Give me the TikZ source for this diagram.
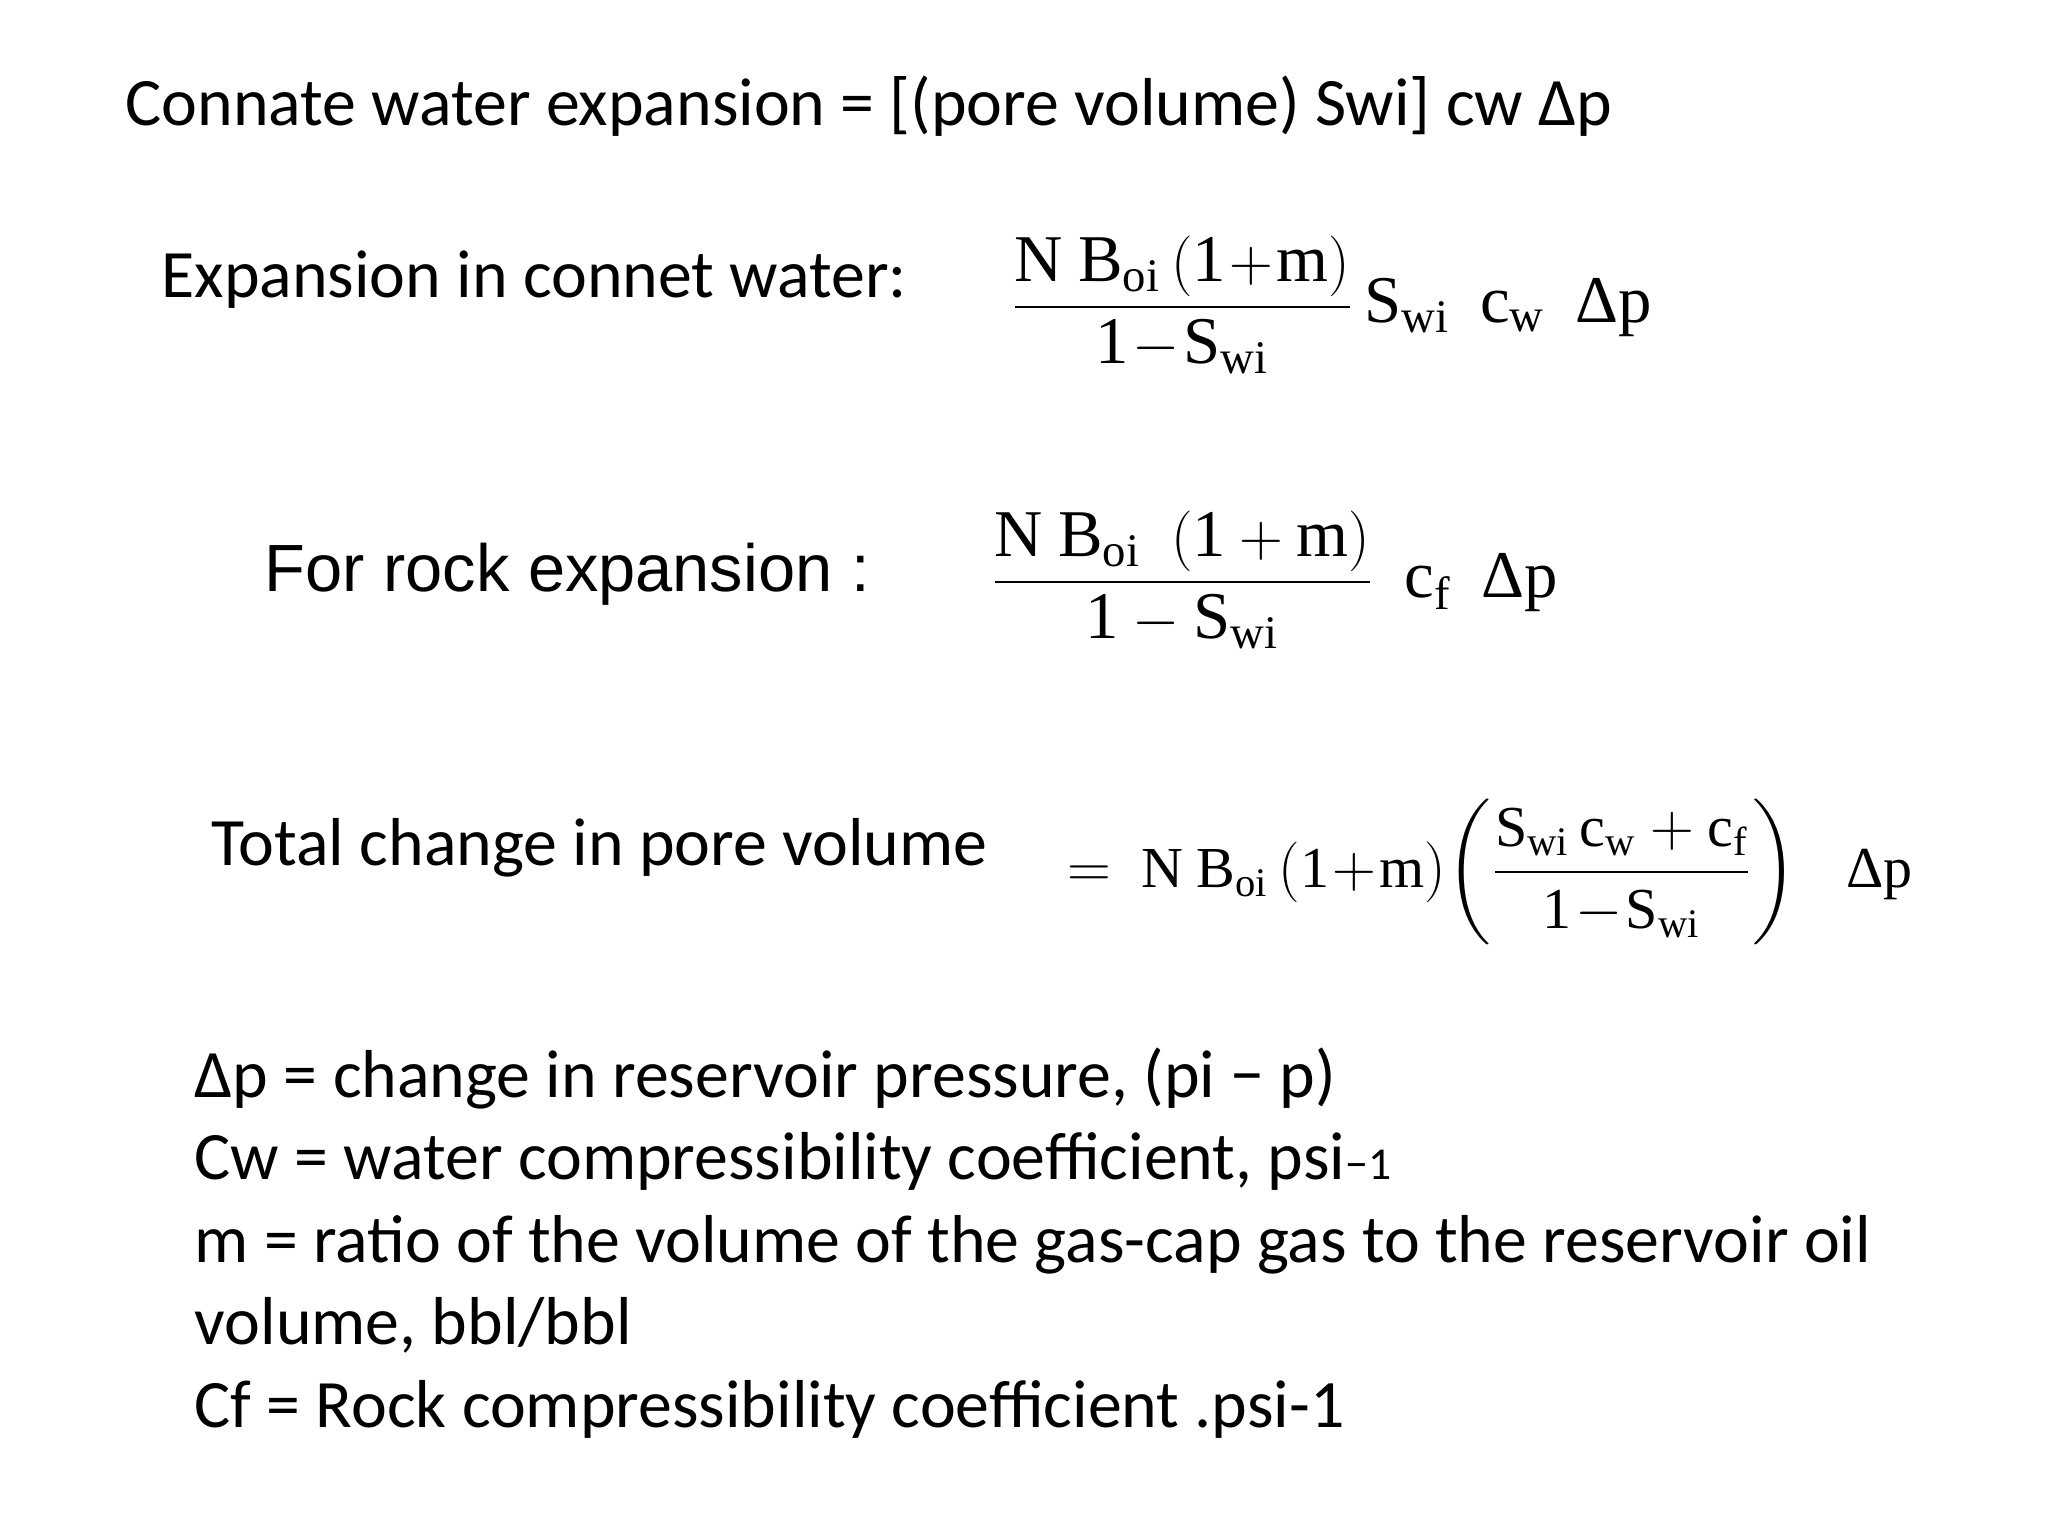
\documentclass[tikz,border=0pt]{standalone}
\usepackage{amsmath}
\usepackage{fontspec}
\setmainfont{Carlito}
\setmathrm{Liberation Serif}
\newfontfamily\arialf{Liberation Sans}
\newfontfamily\tnr{Liberation Serif}
\begin{document}
\begin{tikzpicture}[x=1cm,y=1cm,
  txt/.style={anchor=base west,inner sep=0pt,font=\fontsize{19.3pt}{23pt}\selectfont},
  eq/.style={anchor=west,inner sep=0pt,font=\fontsize{19pt}{23pt}\selectfont}]
\useasboundingbox (0,0) rectangle (20.48,-15.36);
\newcommand{\R}[1]{\mathrm{#1}}
\newcommand{\Dp}{\mbox{\tnr Δp}}
\node[txt] (title) at (1.25,-1.26) {Connate water expansion = [(pore volume) Swi] cw Δp};
\node[txt] (l1) at (1.61,-2.98) {Expansion in connet water:};
\node[eq] (e1) at (10.1,-3.05) {$\dfrac{\R{N\ B_{oi}\,(1\!+\!m)}}{\R{1\!-\!S_{wi}}}\,\R{S_{wi}\ \ c_w\ \ }\Dp$};
\node[txt,font=\arialf\fontsize{19pt}{23pt}\selectfont] (l2) at (2.64,-5.91) {For rock expansion :};
\node[eq] (e2) at (9.9,-5.8) {$\dfrac{\R{N\ B_{oi}\ \ (1+m)}}{\R{1-S_{wi}}}\ \ \R{c_f\ \ }\Dp$};
\node[txt] (l3) at (2.11,-8.66) {Total change in pore volume};
\node[eq,font=\fontsize{16.5pt}{20pt}\selectfont] (e3) at (10.67,-8.72) {$=\ \R{N\ B_{oi}\,(1\!+\!m)}\!\left(\dfrac{\R{S_{wi}\,c_w+c_f}}{\R{1\!-\!S_{wi}}}\right)\ \ \ \Dp$};
\node[txt] (b1) at (1.94,-10.97) {Δp = change in reservoir pressure, (pi − p)};
\node[txt] (b2) at (1.94,-11.79) {Cw = water compressibility coefficient, psi{\fontsize{13pt}{15pt}\selectfont −1}};
\node[txt] (b3) at (1.94,-12.62) {m = ratio of the volume of the gas-cap gas to the reservoir oil};
\node[txt] (b4) at (1.94,-13.44) {volume, bbl/bbl};
\node[txt] (b5) at (1.94,-14.27) {Cf = Rock compressibility coefficient .psi-1};
\end{tikzpicture}
\end{document}
